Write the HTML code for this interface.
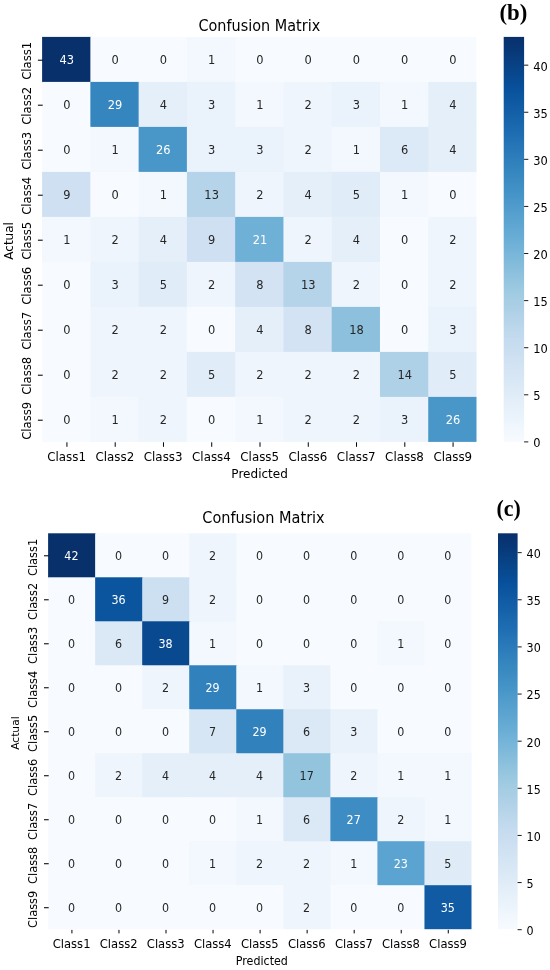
<!DOCTYPE html>
<html><head><meta charset="utf-8"><title>Confusion Matrix</title>
<style>
html,body{margin:0;padding:0;background:#fff;}
body{width:550px;height:970px;overflow:hidden;}
svg{display:block;font-family:"DejaVu Sans","Liberation Sans",sans-serif;}
</style></head><body>
<svg width="550" height="970" viewBox="0 0 550 970">
<rect width="550" height="970" fill="#ffffff"/>
<g class="cells">
<rect x="42.10" y="36.90" width="49.27" height="46.00" fill="#08306b"/>
<rect x="90.37" y="36.90" width="49.27" height="46.00" fill="#f7fbff"/>
<rect x="138.63" y="36.90" width="49.27" height="46.00" fill="#f7fbff"/>
<rect x="186.90" y="36.90" width="49.27" height="46.00" fill="#f3f8fe"/>
<rect x="235.17" y="36.90" width="49.27" height="46.00" fill="#f7fbff"/>
<rect x="283.43" y="36.90" width="49.27" height="46.00" fill="#f7fbff"/>
<rect x="331.70" y="36.90" width="49.27" height="46.00" fill="#f7fbff"/>
<rect x="379.97" y="36.90" width="49.27" height="46.00" fill="#f7fbff"/>
<rect x="428.23" y="36.90" width="48.27" height="46.00" fill="#f7fbff"/>
<rect x="42.10" y="81.90" width="49.27" height="46.00" fill="#f7fbff"/>
<rect x="90.37" y="81.90" width="49.27" height="46.00" fill="#3585bf"/>
<rect x="138.63" y="81.90" width="49.27" height="46.00" fill="#e5eff9"/>
<rect x="186.90" y="81.90" width="49.27" height="46.00" fill="#eaf2fb"/>
<rect x="235.17" y="81.90" width="49.27" height="46.00" fill="#f3f8fe"/>
<rect x="283.43" y="81.90" width="49.27" height="46.00" fill="#eef5fc"/>
<rect x="331.70" y="81.90" width="49.27" height="46.00" fill="#eaf2fb"/>
<rect x="379.97" y="81.90" width="49.27" height="46.00" fill="#f3f8fe"/>
<rect x="428.23" y="81.90" width="48.27" height="46.00" fill="#e5eff9"/>
<rect x="42.10" y="126.90" width="49.27" height="46.00" fill="#f7fbff"/>
<rect x="90.37" y="126.90" width="49.27" height="46.00" fill="#f3f8fe"/>
<rect x="138.63" y="126.90" width="49.27" height="46.00" fill="#4997c9"/>
<rect x="186.90" y="126.90" width="49.27" height="46.00" fill="#eaf2fb"/>
<rect x="235.17" y="126.90" width="49.27" height="46.00" fill="#eaf2fb"/>
<rect x="283.43" y="126.90" width="49.27" height="46.00" fill="#eef5fc"/>
<rect x="331.70" y="126.90" width="49.27" height="46.00" fill="#f3f8fe"/>
<rect x="379.97" y="126.90" width="49.27" height="46.00" fill="#dce9f6"/>
<rect x="428.23" y="126.90" width="48.27" height="46.00" fill="#e5eff9"/>
<rect x="42.10" y="171.90" width="49.27" height="46.00" fill="#cee0f2"/>
<rect x="90.37" y="171.90" width="49.27" height="46.00" fill="#f7fbff"/>
<rect x="138.63" y="171.90" width="49.27" height="46.00" fill="#f3f8fe"/>
<rect x="186.90" y="171.90" width="49.27" height="46.00" fill="#b5d4e9"/>
<rect x="235.17" y="171.90" width="49.27" height="46.00" fill="#eef5fc"/>
<rect x="283.43" y="171.90" width="49.27" height="46.00" fill="#e5eff9"/>
<rect x="331.70" y="171.90" width="49.27" height="46.00" fill="#e0ecf8"/>
<rect x="379.97" y="171.90" width="49.27" height="46.00" fill="#f3f8fe"/>
<rect x="428.23" y="171.90" width="48.27" height="46.00" fill="#f7fbff"/>
<rect x="42.10" y="216.90" width="49.27" height="46.00" fill="#f3f8fe"/>
<rect x="90.37" y="216.90" width="49.27" height="46.00" fill="#eef5fc"/>
<rect x="138.63" y="216.90" width="49.27" height="46.00" fill="#e5eff9"/>
<rect x="186.90" y="216.90" width="49.27" height="46.00" fill="#cee0f2"/>
<rect x="235.17" y="216.90" width="49.27" height="46.00" fill="#6fb0d7"/>
<rect x="283.43" y="216.90" width="49.27" height="46.00" fill="#eef5fc"/>
<rect x="331.70" y="216.90" width="49.27" height="46.00" fill="#e5eff9"/>
<rect x="379.97" y="216.90" width="49.27" height="46.00" fill="#f7fbff"/>
<rect x="428.23" y="216.90" width="48.27" height="46.00" fill="#eef5fc"/>
<rect x="42.10" y="261.90" width="49.27" height="46.00" fill="#f7fbff"/>
<rect x="90.37" y="261.90" width="49.27" height="46.00" fill="#eaf2fb"/>
<rect x="138.63" y="261.90" width="49.27" height="46.00" fill="#e0ecf8"/>
<rect x="186.90" y="261.90" width="49.27" height="46.00" fill="#eef5fc"/>
<rect x="235.17" y="261.90" width="49.27" height="46.00" fill="#d3e3f3"/>
<rect x="283.43" y="261.90" width="49.27" height="46.00" fill="#b5d4e9"/>
<rect x="331.70" y="261.90" width="49.27" height="46.00" fill="#eef5fc"/>
<rect x="379.97" y="261.90" width="49.27" height="46.00" fill="#f7fbff"/>
<rect x="428.23" y="261.90" width="48.27" height="46.00" fill="#eef5fc"/>
<rect x="42.10" y="306.90" width="49.27" height="46.00" fill="#f7fbff"/>
<rect x="90.37" y="306.90" width="49.27" height="46.00" fill="#eef5fc"/>
<rect x="138.63" y="306.90" width="49.27" height="46.00" fill="#eef5fc"/>
<rect x="186.90" y="306.90" width="49.27" height="46.00" fill="#f7fbff"/>
<rect x="235.17" y="306.90" width="49.27" height="46.00" fill="#e5eff9"/>
<rect x="283.43" y="306.90" width="49.27" height="46.00" fill="#d3e3f3"/>
<rect x="331.70" y="306.90" width="49.27" height="46.00" fill="#8cc0dd"/>
<rect x="379.97" y="306.90" width="49.27" height="46.00" fill="#f7fbff"/>
<rect x="428.23" y="306.90" width="48.27" height="46.00" fill="#eaf2fb"/>
<rect x="42.10" y="351.90" width="49.27" height="46.00" fill="#f7fbff"/>
<rect x="90.37" y="351.90" width="49.27" height="46.00" fill="#eef5fc"/>
<rect x="138.63" y="351.90" width="49.27" height="46.00" fill="#eef5fc"/>
<rect x="186.90" y="351.90" width="49.27" height="46.00" fill="#e0ecf8"/>
<rect x="235.17" y="351.90" width="49.27" height="46.00" fill="#eef5fc"/>
<rect x="283.43" y="351.90" width="49.27" height="46.00" fill="#eef5fc"/>
<rect x="331.70" y="351.90" width="49.27" height="46.00" fill="#eef5fc"/>
<rect x="379.97" y="351.90" width="49.27" height="46.00" fill="#aed1e7"/>
<rect x="428.23" y="351.90" width="48.27" height="46.00" fill="#e0ecf8"/>
<rect x="42.10" y="396.90" width="49.27" height="45.00" fill="#f7fbff"/>
<rect x="90.37" y="396.90" width="49.27" height="45.00" fill="#f3f8fe"/>
<rect x="138.63" y="396.90" width="49.27" height="45.00" fill="#eef5fc"/>
<rect x="186.90" y="396.90" width="49.27" height="45.00" fill="#f7fbff"/>
<rect x="235.17" y="396.90" width="49.27" height="45.00" fill="#f3f8fe"/>
<rect x="283.43" y="396.90" width="49.27" height="45.00" fill="#eef5fc"/>
<rect x="331.70" y="396.90" width="49.27" height="45.00" fill="#eef5fc"/>
<rect x="379.97" y="396.90" width="49.27" height="45.00" fill="#eaf2fb"/>
<rect x="428.23" y="396.90" width="48.27" height="45.00" fill="#4997c9"/>
</g><g class="annot">
<text transform="translate(66.83,63.89) scale(0.93,1)" font-size="12.30" fill="#ffffff" text-anchor="middle">43</text>
<text transform="translate(115.10,63.89) scale(0.93,1)" font-size="12.30" fill="#262626" text-anchor="middle">0</text>
<text transform="translate(163.37,63.89) scale(0.93,1)" font-size="12.30" fill="#262626" text-anchor="middle">0</text>
<text transform="translate(211.63,63.89) scale(0.93,1)" font-size="12.30" fill="#262626" text-anchor="middle">1</text>
<text transform="translate(259.90,63.89) scale(0.93,1)" font-size="12.30" fill="#262626" text-anchor="middle">0</text>
<text transform="translate(308.17,63.89) scale(0.93,1)" font-size="12.30" fill="#262626" text-anchor="middle">0</text>
<text transform="translate(356.43,63.89) scale(0.93,1)" font-size="12.30" fill="#262626" text-anchor="middle">0</text>
<text transform="translate(404.70,63.89) scale(0.93,1)" font-size="12.30" fill="#262626" text-anchor="middle">0</text>
<text transform="translate(452.97,63.89) scale(0.93,1)" font-size="12.30" fill="#262626" text-anchor="middle">0</text>
<text transform="translate(66.83,108.89) scale(0.93,1)" font-size="12.30" fill="#262626" text-anchor="middle">0</text>
<text transform="translate(115.10,108.89) scale(0.93,1)" font-size="12.30" fill="#ffffff" text-anchor="middle">29</text>
<text transform="translate(163.37,108.89) scale(0.93,1)" font-size="12.30" fill="#262626" text-anchor="middle">4</text>
<text transform="translate(211.63,108.89) scale(0.93,1)" font-size="12.30" fill="#262626" text-anchor="middle">3</text>
<text transform="translate(259.90,108.89) scale(0.93,1)" font-size="12.30" fill="#262626" text-anchor="middle">1</text>
<text transform="translate(308.17,108.89) scale(0.93,1)" font-size="12.30" fill="#262626" text-anchor="middle">2</text>
<text transform="translate(356.43,108.89) scale(0.93,1)" font-size="12.30" fill="#262626" text-anchor="middle">3</text>
<text transform="translate(404.70,108.89) scale(0.93,1)" font-size="12.30" fill="#262626" text-anchor="middle">1</text>
<text transform="translate(452.97,108.89) scale(0.93,1)" font-size="12.30" fill="#262626" text-anchor="middle">4</text>
<text transform="translate(66.83,153.89) scale(0.93,1)" font-size="12.30" fill="#262626" text-anchor="middle">0</text>
<text transform="translate(115.10,153.89) scale(0.93,1)" font-size="12.30" fill="#262626" text-anchor="middle">1</text>
<text transform="translate(163.37,153.89) scale(0.93,1)" font-size="12.30" fill="#ffffff" text-anchor="middle">26</text>
<text transform="translate(211.63,153.89) scale(0.93,1)" font-size="12.30" fill="#262626" text-anchor="middle">3</text>
<text transform="translate(259.90,153.89) scale(0.93,1)" font-size="12.30" fill="#262626" text-anchor="middle">3</text>
<text transform="translate(308.17,153.89) scale(0.93,1)" font-size="12.30" fill="#262626" text-anchor="middle">2</text>
<text transform="translate(356.43,153.89) scale(0.93,1)" font-size="12.30" fill="#262626" text-anchor="middle">1</text>
<text transform="translate(404.70,153.89) scale(0.93,1)" font-size="12.30" fill="#262626" text-anchor="middle">6</text>
<text transform="translate(452.97,153.89) scale(0.93,1)" font-size="12.30" fill="#262626" text-anchor="middle">4</text>
<text transform="translate(66.83,198.89) scale(0.93,1)" font-size="12.30" fill="#262626" text-anchor="middle">9</text>
<text transform="translate(115.10,198.89) scale(0.93,1)" font-size="12.30" fill="#262626" text-anchor="middle">0</text>
<text transform="translate(163.37,198.89) scale(0.93,1)" font-size="12.30" fill="#262626" text-anchor="middle">1</text>
<text transform="translate(211.63,198.89) scale(0.93,1)" font-size="12.30" fill="#262626" text-anchor="middle">13</text>
<text transform="translate(259.90,198.89) scale(0.93,1)" font-size="12.30" fill="#262626" text-anchor="middle">2</text>
<text transform="translate(308.17,198.89) scale(0.93,1)" font-size="12.30" fill="#262626" text-anchor="middle">4</text>
<text transform="translate(356.43,198.89) scale(0.93,1)" font-size="12.30" fill="#262626" text-anchor="middle">5</text>
<text transform="translate(404.70,198.89) scale(0.93,1)" font-size="12.30" fill="#262626" text-anchor="middle">1</text>
<text transform="translate(452.97,198.89) scale(0.93,1)" font-size="12.30" fill="#262626" text-anchor="middle">0</text>
<text transform="translate(66.83,243.89) scale(0.93,1)" font-size="12.30" fill="#262626" text-anchor="middle">1</text>
<text transform="translate(115.10,243.89) scale(0.93,1)" font-size="12.30" fill="#262626" text-anchor="middle">2</text>
<text transform="translate(163.37,243.89) scale(0.93,1)" font-size="12.30" fill="#262626" text-anchor="middle">4</text>
<text transform="translate(211.63,243.89) scale(0.93,1)" font-size="12.30" fill="#262626" text-anchor="middle">9</text>
<text transform="translate(259.90,243.89) scale(0.93,1)" font-size="12.30" fill="#ffffff" text-anchor="middle">21</text>
<text transform="translate(308.17,243.89) scale(0.93,1)" font-size="12.30" fill="#262626" text-anchor="middle">2</text>
<text transform="translate(356.43,243.89) scale(0.93,1)" font-size="12.30" fill="#262626" text-anchor="middle">4</text>
<text transform="translate(404.70,243.89) scale(0.93,1)" font-size="12.30" fill="#262626" text-anchor="middle">0</text>
<text transform="translate(452.97,243.89) scale(0.93,1)" font-size="12.30" fill="#262626" text-anchor="middle">2</text>
<text transform="translate(66.83,288.89) scale(0.93,1)" font-size="12.30" fill="#262626" text-anchor="middle">0</text>
<text transform="translate(115.10,288.89) scale(0.93,1)" font-size="12.30" fill="#262626" text-anchor="middle">3</text>
<text transform="translate(163.37,288.89) scale(0.93,1)" font-size="12.30" fill="#262626" text-anchor="middle">5</text>
<text transform="translate(211.63,288.89) scale(0.93,1)" font-size="12.30" fill="#262626" text-anchor="middle">2</text>
<text transform="translate(259.90,288.89) scale(0.93,1)" font-size="12.30" fill="#262626" text-anchor="middle">8</text>
<text transform="translate(308.17,288.89) scale(0.93,1)" font-size="12.30" fill="#262626" text-anchor="middle">13</text>
<text transform="translate(356.43,288.89) scale(0.93,1)" font-size="12.30" fill="#262626" text-anchor="middle">2</text>
<text transform="translate(404.70,288.89) scale(0.93,1)" font-size="12.30" fill="#262626" text-anchor="middle">0</text>
<text transform="translate(452.97,288.89) scale(0.93,1)" font-size="12.30" fill="#262626" text-anchor="middle">2</text>
<text transform="translate(66.83,333.89) scale(0.93,1)" font-size="12.30" fill="#262626" text-anchor="middle">0</text>
<text transform="translate(115.10,333.89) scale(0.93,1)" font-size="12.30" fill="#262626" text-anchor="middle">2</text>
<text transform="translate(163.37,333.89) scale(0.93,1)" font-size="12.30" fill="#262626" text-anchor="middle">2</text>
<text transform="translate(211.63,333.89) scale(0.93,1)" font-size="12.30" fill="#262626" text-anchor="middle">0</text>
<text transform="translate(259.90,333.89) scale(0.93,1)" font-size="12.30" fill="#262626" text-anchor="middle">4</text>
<text transform="translate(308.17,333.89) scale(0.93,1)" font-size="12.30" fill="#262626" text-anchor="middle">8</text>
<text transform="translate(356.43,333.89) scale(0.93,1)" font-size="12.30" fill="#262626" text-anchor="middle">18</text>
<text transform="translate(404.70,333.89) scale(0.93,1)" font-size="12.30" fill="#262626" text-anchor="middle">0</text>
<text transform="translate(452.97,333.89) scale(0.93,1)" font-size="12.30" fill="#262626" text-anchor="middle">3</text>
<text transform="translate(66.83,378.89) scale(0.93,1)" font-size="12.30" fill="#262626" text-anchor="middle">0</text>
<text transform="translate(115.10,378.89) scale(0.93,1)" font-size="12.30" fill="#262626" text-anchor="middle">2</text>
<text transform="translate(163.37,378.89) scale(0.93,1)" font-size="12.30" fill="#262626" text-anchor="middle">2</text>
<text transform="translate(211.63,378.89) scale(0.93,1)" font-size="12.30" fill="#262626" text-anchor="middle">5</text>
<text transform="translate(259.90,378.89) scale(0.93,1)" font-size="12.30" fill="#262626" text-anchor="middle">2</text>
<text transform="translate(308.17,378.89) scale(0.93,1)" font-size="12.30" fill="#262626" text-anchor="middle">2</text>
<text transform="translate(356.43,378.89) scale(0.93,1)" font-size="12.30" fill="#262626" text-anchor="middle">2</text>
<text transform="translate(404.70,378.89) scale(0.93,1)" font-size="12.30" fill="#262626" text-anchor="middle">14</text>
<text transform="translate(452.97,378.89) scale(0.93,1)" font-size="12.30" fill="#262626" text-anchor="middle">5</text>
<text transform="translate(66.83,423.89) scale(0.93,1)" font-size="12.30" fill="#262626" text-anchor="middle">0</text>
<text transform="translate(115.10,423.89) scale(0.93,1)" font-size="12.30" fill="#262626" text-anchor="middle">1</text>
<text transform="translate(163.37,423.89) scale(0.93,1)" font-size="12.30" fill="#262626" text-anchor="middle">2</text>
<text transform="translate(211.63,423.89) scale(0.93,1)" font-size="12.30" fill="#262626" text-anchor="middle">0</text>
<text transform="translate(259.90,423.89) scale(0.93,1)" font-size="12.30" fill="#262626" text-anchor="middle">1</text>
<text transform="translate(308.17,423.89) scale(0.93,1)" font-size="12.30" fill="#262626" text-anchor="middle">2</text>
<text transform="translate(356.43,423.89) scale(0.93,1)" font-size="12.30" fill="#262626" text-anchor="middle">2</text>
<text transform="translate(404.70,423.89) scale(0.93,1)" font-size="12.30" fill="#262626" text-anchor="middle">3</text>
<text transform="translate(452.97,423.89) scale(0.93,1)" font-size="12.30" fill="#ffffff" text-anchor="middle">26</text>
</g><g class="ticks">
<line x1="37.90" x2="42.70" y1="60.20" y2="60.20" stroke="#000" stroke-width="1.05"/>
<text transform="translate(30.60,60.80) rotate(-90) scale(0.95,1)" font-size="12.30" fill="#000" text-anchor="middle">Class1</text>
<line x1="66.93" x2="66.93" y1="442.30" y2="446.80" stroke="#000" stroke-width="1.0"/>
<text transform="translate(66.63,460.90) scale(0.965,1)" font-size="12.30" fill="#000" text-anchor="middle">Class1</text>
<line x1="37.90" x2="42.70" y1="105.20" y2="105.20" stroke="#000" stroke-width="1.05"/>
<text transform="translate(30.60,105.80) rotate(-90) scale(0.95,1)" font-size="12.30" fill="#000" text-anchor="middle">Class2</text>
<line x1="115.20" x2="115.20" y1="442.30" y2="446.80" stroke="#000" stroke-width="1.0"/>
<text transform="translate(114.90,460.90) scale(0.965,1)" font-size="12.30" fill="#000" text-anchor="middle">Class2</text>
<line x1="37.90" x2="42.70" y1="150.20" y2="150.20" stroke="#000" stroke-width="1.05"/>
<text transform="translate(30.60,150.80) rotate(-90) scale(0.95,1)" font-size="12.30" fill="#000" text-anchor="middle">Class3</text>
<line x1="163.47" x2="163.47" y1="442.30" y2="446.80" stroke="#000" stroke-width="1.0"/>
<text transform="translate(163.17,460.90) scale(0.965,1)" font-size="12.30" fill="#000" text-anchor="middle">Class3</text>
<line x1="37.90" x2="42.70" y1="195.20" y2="195.20" stroke="#000" stroke-width="1.05"/>
<text transform="translate(30.60,195.80) rotate(-90) scale(0.95,1)" font-size="12.30" fill="#000" text-anchor="middle">Class4</text>
<line x1="211.73" x2="211.73" y1="442.30" y2="446.80" stroke="#000" stroke-width="1.0"/>
<text transform="translate(211.43,460.90) scale(0.965,1)" font-size="12.30" fill="#000" text-anchor="middle">Class4</text>
<line x1="37.90" x2="42.70" y1="240.20" y2="240.20" stroke="#000" stroke-width="1.05"/>
<text transform="translate(30.60,240.80) rotate(-90) scale(0.95,1)" font-size="12.30" fill="#000" text-anchor="middle">Class5</text>
<line x1="260.00" x2="260.00" y1="442.30" y2="446.80" stroke="#000" stroke-width="1.0"/>
<text transform="translate(259.70,460.90) scale(0.965,1)" font-size="12.30" fill="#000" text-anchor="middle">Class5</text>
<line x1="37.90" x2="42.70" y1="285.20" y2="285.20" stroke="#000" stroke-width="1.05"/>
<text transform="translate(30.60,285.80) rotate(-90) scale(0.95,1)" font-size="12.30" fill="#000" text-anchor="middle">Class6</text>
<line x1="308.27" x2="308.27" y1="442.30" y2="446.80" stroke="#000" stroke-width="1.0"/>
<text transform="translate(307.97,460.90) scale(0.965,1)" font-size="12.30" fill="#000" text-anchor="middle">Class6</text>
<line x1="37.90" x2="42.70" y1="330.20" y2="330.20" stroke="#000" stroke-width="1.05"/>
<text transform="translate(30.60,330.80) rotate(-90) scale(0.95,1)" font-size="12.30" fill="#000" text-anchor="middle">Class7</text>
<line x1="356.53" x2="356.53" y1="442.30" y2="446.80" stroke="#000" stroke-width="1.0"/>
<text transform="translate(356.23,460.90) scale(0.965,1)" font-size="12.30" fill="#000" text-anchor="middle">Class7</text>
<line x1="37.90" x2="42.70" y1="375.20" y2="375.20" stroke="#000" stroke-width="1.05"/>
<text transform="translate(30.60,375.80) rotate(-90) scale(0.95,1)" font-size="12.30" fill="#000" text-anchor="middle">Class8</text>
<line x1="404.80" x2="404.80" y1="442.30" y2="446.80" stroke="#000" stroke-width="1.0"/>
<text transform="translate(404.50,460.90) scale(0.965,1)" font-size="12.30" fill="#000" text-anchor="middle">Class8</text>
<line x1="37.90" x2="42.70" y1="420.20" y2="420.20" stroke="#000" stroke-width="1.05"/>
<text transform="translate(30.60,420.80) rotate(-90) scale(0.95,1)" font-size="12.30" fill="#000" text-anchor="middle">Class9</text>
<line x1="453.07" x2="453.07" y1="442.30" y2="446.80" stroke="#000" stroke-width="1.0"/>
<text transform="translate(452.77,460.90) scale(0.965,1)" font-size="12.30" fill="#000" text-anchor="middle">Class9</text>
</g>
<text transform="translate(259.60,477.90) scale(0.98,1)" font-size="12.30" fill="#000" text-anchor="middle">Predicted</text>
<text transform="translate(13.20,240.90) rotate(-90) scale(0.98,1)" font-size="12.30" fill="#000" text-anchor="middle">Actual</text>
<text transform="translate(259.30,30.50) scale(0.95,1)" font-size="15.20" fill="#000" text-anchor="middle">Confusion Matrix</text>
<defs><linearGradient id="gb" x1="0" y1="0" x2="0" y2="1"><stop offset="0.0000" stop-color="#08306b"/><stop offset="0.0312" stop-color="#083776"/><stop offset="0.0625" stop-color="#084082"/><stop offset="0.0938" stop-color="#08488e"/><stop offset="0.1250" stop-color="#08509b"/><stop offset="0.1562" stop-color="#0e58a2"/><stop offset="0.1875" stop-color="#1460a8"/><stop offset="0.2188" stop-color="#1a68ae"/><stop offset="0.2500" stop-color="#2070b4"/><stop offset="0.2812" stop-color="#2979b9"/><stop offset="0.3125" stop-color="#3181bd"/><stop offset="0.3438" stop-color="#3989c1"/><stop offset="0.3750" stop-color="#4191c6"/><stop offset="0.4062" stop-color="#4b98ca"/><stop offset="0.4375" stop-color="#56a0ce"/><stop offset="0.4688" stop-color="#60a7d2"/><stop offset="0.5000" stop-color="#6aaed6"/><stop offset="0.5312" stop-color="#77b5d9"/><stop offset="0.5625" stop-color="#84bcdb"/><stop offset="0.5938" stop-color="#91c3de"/><stop offset="0.6250" stop-color="#9dcae1"/><stop offset="0.6562" stop-color="#a8cee4"/><stop offset="0.6875" stop-color="#b2d2e8"/><stop offset="0.7188" stop-color="#bcd7eb"/><stop offset="0.7500" stop-color="#c6dbef"/><stop offset="0.7812" stop-color="#ccdff1"/><stop offset="0.8125" stop-color="#d2e3f3"/><stop offset="0.8438" stop-color="#d8e7f5"/><stop offset="0.8750" stop-color="#deebf7"/><stop offset="0.9062" stop-color="#e4eff9"/><stop offset="0.9375" stop-color="#eaf3fb"/><stop offset="0.9688" stop-color="#f1f7fd"/><stop offset="1.0000" stop-color="#f7fbff"/></linearGradient></defs>
<rect x="503.70" y="36.90" width="20.40" height="405.00" fill="url(#gb)"/>
<g class="cbticks">
<line x1="524.10" x2="528.30" y1="441.90" y2="441.90" stroke="#000" stroke-width="0.9"/>
<text transform="translate(533.30,447.29) scale(0.93,1)" font-size="12.30" fill="#000" text-anchor="start">0</text>
<line x1="524.10" x2="528.30" y1="394.81" y2="394.81" stroke="#000" stroke-width="0.9"/>
<text transform="translate(533.30,400.20) scale(0.93,1)" font-size="12.30" fill="#000" text-anchor="start">5</text>
<line x1="524.10" x2="528.30" y1="347.71" y2="347.71" stroke="#000" stroke-width="0.9"/>
<text transform="translate(533.30,353.10) scale(0.93,1)" font-size="12.30" fill="#000" text-anchor="start">10</text>
<line x1="524.10" x2="528.30" y1="300.62" y2="300.62" stroke="#000" stroke-width="0.9"/>
<text transform="translate(533.30,306.01) scale(0.93,1)" font-size="12.30" fill="#000" text-anchor="start">15</text>
<line x1="524.10" x2="528.30" y1="253.53" y2="253.53" stroke="#000" stroke-width="0.9"/>
<text transform="translate(533.30,258.92) scale(0.93,1)" font-size="12.30" fill="#000" text-anchor="start">20</text>
<line x1="524.10" x2="528.30" y1="206.43" y2="206.43" stroke="#000" stroke-width="0.9"/>
<text transform="translate(533.30,211.82) scale(0.93,1)" font-size="12.30" fill="#000" text-anchor="start">25</text>
<line x1="524.10" x2="528.30" y1="159.34" y2="159.34" stroke="#000" stroke-width="0.9"/>
<text transform="translate(533.30,164.73) scale(0.93,1)" font-size="12.30" fill="#000" text-anchor="start">30</text>
<line x1="524.10" x2="528.30" y1="112.25" y2="112.25" stroke="#000" stroke-width="0.9"/>
<text transform="translate(533.30,117.64) scale(0.93,1)" font-size="12.30" fill="#000" text-anchor="start">35</text>
<line x1="524.10" x2="528.30" y1="65.16" y2="65.16" stroke="#000" stroke-width="0.9"/>
<text transform="translate(533.30,70.55) scale(0.93,1)" font-size="12.30" fill="#000" text-anchor="start">40</text>
</g>
<text transform="translate(513.30,19.70) scale(0.97,1)" font-size="23.50" fill="#000" text-anchor="middle" font-family="'Liberation Serif', 'DejaVu Serif', serif" font-weight="bold">(b)</text>
<g class="cells">
<rect x="48.10" y="533.30" width="48.04" height="44.99" fill="#08306b"/>
<rect x="95.14" y="533.30" width="48.04" height="44.99" fill="#f7fbff"/>
<rect x="142.19" y="533.30" width="48.04" height="44.99" fill="#f7fbff"/>
<rect x="189.23" y="533.30" width="48.04" height="44.99" fill="#eef5fc"/>
<rect x="236.28" y="533.30" width="48.04" height="44.99" fill="#f7fbff"/>
<rect x="283.32" y="533.30" width="48.04" height="44.99" fill="#f7fbff"/>
<rect x="330.37" y="533.30" width="48.04" height="44.99" fill="#f7fbff"/>
<rect x="377.41" y="533.30" width="48.04" height="44.99" fill="#f7fbff"/>
<rect x="424.46" y="533.30" width="47.04" height="44.99" fill="#f7fbff"/>
<rect x="48.10" y="577.29" width="48.04" height="44.99" fill="#f7fbff"/>
<rect x="95.14" y="577.29" width="48.04" height="44.99" fill="#0b559f"/>
<rect x="142.19" y="577.29" width="48.04" height="44.99" fill="#cde0f1"/>
<rect x="189.23" y="577.29" width="48.04" height="44.99" fill="#eef5fc"/>
<rect x="236.28" y="577.29" width="48.04" height="44.99" fill="#f7fbff"/>
<rect x="283.32" y="577.29" width="48.04" height="44.99" fill="#f7fbff"/>
<rect x="330.37" y="577.29" width="48.04" height="44.99" fill="#f7fbff"/>
<rect x="377.41" y="577.29" width="48.04" height="44.99" fill="#f7fbff"/>
<rect x="424.46" y="577.29" width="47.04" height="44.99" fill="#f7fbff"/>
<rect x="48.10" y="621.28" width="48.04" height="44.99" fill="#f7fbff"/>
<rect x="95.14" y="621.28" width="48.04" height="44.99" fill="#dbe9f6"/>
<rect x="142.19" y="621.28" width="48.04" height="44.99" fill="#084990"/>
<rect x="189.23" y="621.28" width="48.04" height="44.99" fill="#f2f8fd"/>
<rect x="236.28" y="621.28" width="48.04" height="44.99" fill="#f7fbff"/>
<rect x="283.32" y="621.28" width="48.04" height="44.99" fill="#f7fbff"/>
<rect x="330.37" y="621.28" width="48.04" height="44.99" fill="#f7fbff"/>
<rect x="377.41" y="621.28" width="48.04" height="44.99" fill="#f2f8fd"/>
<rect x="424.46" y="621.28" width="47.04" height="44.99" fill="#f7fbff"/>
<rect x="48.10" y="665.27" width="48.04" height="44.99" fill="#f7fbff"/>
<rect x="95.14" y="665.27" width="48.04" height="44.99" fill="#f7fbff"/>
<rect x="142.19" y="665.27" width="48.04" height="44.99" fill="#eef5fc"/>
<rect x="189.23" y="665.27" width="48.04" height="44.99" fill="#3181bd"/>
<rect x="236.28" y="665.27" width="48.04" height="44.99" fill="#f2f8fd"/>
<rect x="283.32" y="665.27" width="48.04" height="44.99" fill="#e9f2fa"/>
<rect x="330.37" y="665.27" width="48.04" height="44.99" fill="#f7fbff"/>
<rect x="377.41" y="665.27" width="48.04" height="44.99" fill="#f7fbff"/>
<rect x="424.46" y="665.27" width="47.04" height="44.99" fill="#f7fbff"/>
<rect x="48.10" y="709.26" width="48.04" height="44.99" fill="#f7fbff"/>
<rect x="95.14" y="709.26" width="48.04" height="44.99" fill="#f7fbff"/>
<rect x="142.19" y="709.26" width="48.04" height="44.99" fill="#f7fbff"/>
<rect x="189.23" y="709.26" width="48.04" height="44.99" fill="#d6e6f4"/>
<rect x="236.28" y="709.26" width="48.04" height="44.99" fill="#3181bd"/>
<rect x="283.32" y="709.26" width="48.04" height="44.99" fill="#dbe9f6"/>
<rect x="330.37" y="709.26" width="48.04" height="44.99" fill="#e9f2fa"/>
<rect x="377.41" y="709.26" width="48.04" height="44.99" fill="#f7fbff"/>
<rect x="424.46" y="709.26" width="47.04" height="44.99" fill="#f7fbff"/>
<rect x="48.10" y="753.24" width="48.04" height="44.99" fill="#f7fbff"/>
<rect x="95.14" y="753.24" width="48.04" height="44.99" fill="#eef5fc"/>
<rect x="142.19" y="753.24" width="48.04" height="44.99" fill="#e4eff9"/>
<rect x="189.23" y="753.24" width="48.04" height="44.99" fill="#e4eff9"/>
<rect x="236.28" y="753.24" width="48.04" height="44.99" fill="#e4eff9"/>
<rect x="283.32" y="753.24" width="48.04" height="44.99" fill="#92c4de"/>
<rect x="330.37" y="753.24" width="48.04" height="44.99" fill="#eef5fc"/>
<rect x="377.41" y="753.24" width="48.04" height="44.99" fill="#f2f8fd"/>
<rect x="424.46" y="753.24" width="47.04" height="44.99" fill="#f2f8fd"/>
<rect x="48.10" y="797.23" width="48.04" height="44.99" fill="#f7fbff"/>
<rect x="95.14" y="797.23" width="48.04" height="44.99" fill="#f7fbff"/>
<rect x="142.19" y="797.23" width="48.04" height="44.99" fill="#f7fbff"/>
<rect x="189.23" y="797.23" width="48.04" height="44.99" fill="#f7fbff"/>
<rect x="236.28" y="797.23" width="48.04" height="44.99" fill="#f2f8fd"/>
<rect x="283.32" y="797.23" width="48.04" height="44.99" fill="#dbe9f6"/>
<rect x="330.37" y="797.23" width="48.04" height="44.99" fill="#3d8dc4"/>
<rect x="377.41" y="797.23" width="48.04" height="44.99" fill="#eef5fc"/>
<rect x="424.46" y="797.23" width="47.04" height="44.99" fill="#f2f8fd"/>
<rect x="48.10" y="841.22" width="48.04" height="44.99" fill="#f7fbff"/>
<rect x="95.14" y="841.22" width="48.04" height="44.99" fill="#f7fbff"/>
<rect x="142.19" y="841.22" width="48.04" height="44.99" fill="#f7fbff"/>
<rect x="189.23" y="841.22" width="48.04" height="44.99" fill="#f2f8fd"/>
<rect x="236.28" y="841.22" width="48.04" height="44.99" fill="#eef5fc"/>
<rect x="283.32" y="841.22" width="48.04" height="44.99" fill="#eef5fc"/>
<rect x="330.37" y="841.22" width="48.04" height="44.99" fill="#f2f8fd"/>
<rect x="377.41" y="841.22" width="48.04" height="44.99" fill="#5ba3d0"/>
<rect x="424.46" y="841.22" width="47.04" height="44.99" fill="#dfecf7"/>
<rect x="48.10" y="885.21" width="48.04" height="43.99" fill="#f7fbff"/>
<rect x="95.14" y="885.21" width="48.04" height="43.99" fill="#f7fbff"/>
<rect x="142.19" y="885.21" width="48.04" height="43.99" fill="#f7fbff"/>
<rect x="189.23" y="885.21" width="48.04" height="43.99" fill="#f7fbff"/>
<rect x="236.28" y="885.21" width="48.04" height="43.99" fill="#f7fbff"/>
<rect x="283.32" y="885.21" width="48.04" height="43.99" fill="#eef5fc"/>
<rect x="330.37" y="885.21" width="48.04" height="43.99" fill="#f7fbff"/>
<rect x="377.41" y="885.21" width="48.04" height="43.99" fill="#f7fbff"/>
<rect x="424.46" y="885.21" width="47.04" height="43.99" fill="#105ba4"/>
</g><g class="annot">
<text transform="translate(71.42,559.67) scale(0.93,1)" font-size="11.99" fill="#ffffff" text-anchor="middle">42</text>
<text transform="translate(118.47,559.67) scale(0.93,1)" font-size="11.99" fill="#262626" text-anchor="middle">0</text>
<text transform="translate(165.51,559.67) scale(0.93,1)" font-size="11.99" fill="#262626" text-anchor="middle">0</text>
<text transform="translate(212.56,559.67) scale(0.93,1)" font-size="11.99" fill="#262626" text-anchor="middle">2</text>
<text transform="translate(259.60,559.67) scale(0.93,1)" font-size="11.99" fill="#262626" text-anchor="middle">0</text>
<text transform="translate(306.64,559.67) scale(0.93,1)" font-size="11.99" fill="#262626" text-anchor="middle">0</text>
<text transform="translate(353.69,559.67) scale(0.93,1)" font-size="11.99" fill="#262626" text-anchor="middle">0</text>
<text transform="translate(400.73,559.67) scale(0.93,1)" font-size="11.99" fill="#262626" text-anchor="middle">0</text>
<text transform="translate(447.78,559.67) scale(0.93,1)" font-size="11.99" fill="#262626" text-anchor="middle">0</text>
<text transform="translate(71.42,603.66) scale(0.93,1)" font-size="11.99" fill="#262626" text-anchor="middle">0</text>
<text transform="translate(118.47,603.66) scale(0.93,1)" font-size="11.99" fill="#ffffff" text-anchor="middle">36</text>
<text transform="translate(165.51,603.66) scale(0.93,1)" font-size="11.99" fill="#262626" text-anchor="middle">9</text>
<text transform="translate(212.56,603.66) scale(0.93,1)" font-size="11.99" fill="#262626" text-anchor="middle">2</text>
<text transform="translate(259.60,603.66) scale(0.93,1)" font-size="11.99" fill="#262626" text-anchor="middle">0</text>
<text transform="translate(306.64,603.66) scale(0.93,1)" font-size="11.99" fill="#262626" text-anchor="middle">0</text>
<text transform="translate(353.69,603.66) scale(0.93,1)" font-size="11.99" fill="#262626" text-anchor="middle">0</text>
<text transform="translate(400.73,603.66) scale(0.93,1)" font-size="11.99" fill="#262626" text-anchor="middle">0</text>
<text transform="translate(447.78,603.66) scale(0.93,1)" font-size="11.99" fill="#262626" text-anchor="middle">0</text>
<text transform="translate(71.42,647.65) scale(0.93,1)" font-size="11.99" fill="#262626" text-anchor="middle">0</text>
<text transform="translate(118.47,647.65) scale(0.93,1)" font-size="11.99" fill="#262626" text-anchor="middle">6</text>
<text transform="translate(165.51,647.65) scale(0.93,1)" font-size="11.99" fill="#ffffff" text-anchor="middle">38</text>
<text transform="translate(212.56,647.65) scale(0.93,1)" font-size="11.99" fill="#262626" text-anchor="middle">1</text>
<text transform="translate(259.60,647.65) scale(0.93,1)" font-size="11.99" fill="#262626" text-anchor="middle">0</text>
<text transform="translate(306.64,647.65) scale(0.93,1)" font-size="11.99" fill="#262626" text-anchor="middle">0</text>
<text transform="translate(353.69,647.65) scale(0.93,1)" font-size="11.99" fill="#262626" text-anchor="middle">0</text>
<text transform="translate(400.73,647.65) scale(0.93,1)" font-size="11.99" fill="#262626" text-anchor="middle">1</text>
<text transform="translate(447.78,647.65) scale(0.93,1)" font-size="11.99" fill="#262626" text-anchor="middle">0</text>
<text transform="translate(71.42,691.64) scale(0.93,1)" font-size="11.99" fill="#262626" text-anchor="middle">0</text>
<text transform="translate(118.47,691.64) scale(0.93,1)" font-size="11.99" fill="#262626" text-anchor="middle">0</text>
<text transform="translate(165.51,691.64) scale(0.93,1)" font-size="11.99" fill="#262626" text-anchor="middle">2</text>
<text transform="translate(212.56,691.64) scale(0.93,1)" font-size="11.99" fill="#ffffff" text-anchor="middle">29</text>
<text transform="translate(259.60,691.64) scale(0.93,1)" font-size="11.99" fill="#262626" text-anchor="middle">1</text>
<text transform="translate(306.64,691.64) scale(0.93,1)" font-size="11.99" fill="#262626" text-anchor="middle">3</text>
<text transform="translate(353.69,691.64) scale(0.93,1)" font-size="11.99" fill="#262626" text-anchor="middle">0</text>
<text transform="translate(400.73,691.64) scale(0.93,1)" font-size="11.99" fill="#262626" text-anchor="middle">0</text>
<text transform="translate(447.78,691.64) scale(0.93,1)" font-size="11.99" fill="#262626" text-anchor="middle">0</text>
<text transform="translate(71.42,735.63) scale(0.93,1)" font-size="11.99" fill="#262626" text-anchor="middle">0</text>
<text transform="translate(118.47,735.63) scale(0.93,1)" font-size="11.99" fill="#262626" text-anchor="middle">0</text>
<text transform="translate(165.51,735.63) scale(0.93,1)" font-size="11.99" fill="#262626" text-anchor="middle">0</text>
<text transform="translate(212.56,735.63) scale(0.93,1)" font-size="11.99" fill="#262626" text-anchor="middle">7</text>
<text transform="translate(259.60,735.63) scale(0.93,1)" font-size="11.99" fill="#ffffff" text-anchor="middle">29</text>
<text transform="translate(306.64,735.63) scale(0.93,1)" font-size="11.99" fill="#262626" text-anchor="middle">6</text>
<text transform="translate(353.69,735.63) scale(0.93,1)" font-size="11.99" fill="#262626" text-anchor="middle">3</text>
<text transform="translate(400.73,735.63) scale(0.93,1)" font-size="11.99" fill="#262626" text-anchor="middle">0</text>
<text transform="translate(447.78,735.63) scale(0.93,1)" font-size="11.99" fill="#262626" text-anchor="middle">0</text>
<text transform="translate(71.42,779.62) scale(0.93,1)" font-size="11.99" fill="#262626" text-anchor="middle">0</text>
<text transform="translate(118.47,779.62) scale(0.93,1)" font-size="11.99" fill="#262626" text-anchor="middle">2</text>
<text transform="translate(165.51,779.62) scale(0.93,1)" font-size="11.99" fill="#262626" text-anchor="middle">4</text>
<text transform="translate(212.56,779.62) scale(0.93,1)" font-size="11.99" fill="#262626" text-anchor="middle">4</text>
<text transform="translate(259.60,779.62) scale(0.93,1)" font-size="11.99" fill="#262626" text-anchor="middle">4</text>
<text transform="translate(306.64,779.62) scale(0.93,1)" font-size="11.99" fill="#262626" text-anchor="middle">17</text>
<text transform="translate(353.69,779.62) scale(0.93,1)" font-size="11.99" fill="#262626" text-anchor="middle">2</text>
<text transform="translate(400.73,779.62) scale(0.93,1)" font-size="11.99" fill="#262626" text-anchor="middle">1</text>
<text transform="translate(447.78,779.62) scale(0.93,1)" font-size="11.99" fill="#262626" text-anchor="middle">1</text>
<text transform="translate(71.42,823.61) scale(0.93,1)" font-size="11.99" fill="#262626" text-anchor="middle">0</text>
<text transform="translate(118.47,823.61) scale(0.93,1)" font-size="11.99" fill="#262626" text-anchor="middle">0</text>
<text transform="translate(165.51,823.61) scale(0.93,1)" font-size="11.99" fill="#262626" text-anchor="middle">0</text>
<text transform="translate(212.56,823.61) scale(0.93,1)" font-size="11.99" fill="#262626" text-anchor="middle">0</text>
<text transform="translate(259.60,823.61) scale(0.93,1)" font-size="11.99" fill="#262626" text-anchor="middle">1</text>
<text transform="translate(306.64,823.61) scale(0.93,1)" font-size="11.99" fill="#262626" text-anchor="middle">6</text>
<text transform="translate(353.69,823.61) scale(0.93,1)" font-size="11.99" fill="#ffffff" text-anchor="middle">27</text>
<text transform="translate(400.73,823.61) scale(0.93,1)" font-size="11.99" fill="#262626" text-anchor="middle">2</text>
<text transform="translate(447.78,823.61) scale(0.93,1)" font-size="11.99" fill="#262626" text-anchor="middle">1</text>
<text transform="translate(71.42,867.59) scale(0.93,1)" font-size="11.99" fill="#262626" text-anchor="middle">0</text>
<text transform="translate(118.47,867.59) scale(0.93,1)" font-size="11.99" fill="#262626" text-anchor="middle">0</text>
<text transform="translate(165.51,867.59) scale(0.93,1)" font-size="11.99" fill="#262626" text-anchor="middle">0</text>
<text transform="translate(212.56,867.59) scale(0.93,1)" font-size="11.99" fill="#262626" text-anchor="middle">1</text>
<text transform="translate(259.60,867.59) scale(0.93,1)" font-size="11.99" fill="#262626" text-anchor="middle">2</text>
<text transform="translate(306.64,867.59) scale(0.93,1)" font-size="11.99" fill="#262626" text-anchor="middle">2</text>
<text transform="translate(353.69,867.59) scale(0.93,1)" font-size="11.99" fill="#262626" text-anchor="middle">1</text>
<text transform="translate(400.73,867.59) scale(0.93,1)" font-size="11.99" fill="#ffffff" text-anchor="middle">23</text>
<text transform="translate(447.78,867.59) scale(0.93,1)" font-size="11.99" fill="#262626" text-anchor="middle">5</text>
<text transform="translate(71.42,911.58) scale(0.93,1)" font-size="11.99" fill="#262626" text-anchor="middle">0</text>
<text transform="translate(118.47,911.58) scale(0.93,1)" font-size="11.99" fill="#262626" text-anchor="middle">0</text>
<text transform="translate(165.51,911.58) scale(0.93,1)" font-size="11.99" fill="#262626" text-anchor="middle">0</text>
<text transform="translate(212.56,911.58) scale(0.93,1)" font-size="11.99" fill="#262626" text-anchor="middle">0</text>
<text transform="translate(259.60,911.58) scale(0.93,1)" font-size="11.99" fill="#262626" text-anchor="middle">0</text>
<text transform="translate(306.64,911.58) scale(0.93,1)" font-size="11.99" fill="#262626" text-anchor="middle">2</text>
<text transform="translate(353.69,911.58) scale(0.93,1)" font-size="11.99" fill="#262626" text-anchor="middle">0</text>
<text transform="translate(400.73,911.58) scale(0.93,1)" font-size="11.99" fill="#262626" text-anchor="middle">0</text>
<text transform="translate(447.78,911.58) scale(0.93,1)" font-size="11.99" fill="#ffffff" text-anchor="middle">35</text>
</g><g class="ticks">
<line x1="44.01" x2="48.70" y1="555.79" y2="555.79" stroke="#000" stroke-width="1.05"/>
<text transform="translate(36.60,557.39) rotate(-90) scale(0.95,1)" font-size="11.99" fill="#000" text-anchor="middle">Class1</text>
<line x1="71.92" x2="71.92" y1="929.90" y2="933.40" stroke="#000" stroke-width="1.0"/>
<text transform="translate(71.62,947.80) scale(0.965,1)" font-size="11.99" fill="#000" text-anchor="middle">Class1</text>
<line x1="44.01" x2="48.70" y1="599.78" y2="599.78" stroke="#000" stroke-width="1.05"/>
<text transform="translate(36.60,601.38) rotate(-90) scale(0.95,1)" font-size="11.99" fill="#000" text-anchor="middle">Class2</text>
<line x1="118.97" x2="118.97" y1="929.90" y2="933.40" stroke="#000" stroke-width="1.0"/>
<text transform="translate(118.67,947.80) scale(0.965,1)" font-size="11.99" fill="#000" text-anchor="middle">Class2</text>
<line x1="44.01" x2="48.70" y1="643.77" y2="643.77" stroke="#000" stroke-width="1.05"/>
<text transform="translate(36.60,645.37) rotate(-90) scale(0.95,1)" font-size="11.99" fill="#000" text-anchor="middle">Class3</text>
<line x1="166.01" x2="166.01" y1="929.90" y2="933.40" stroke="#000" stroke-width="1.0"/>
<text transform="translate(165.71,947.80) scale(0.965,1)" font-size="11.99" fill="#000" text-anchor="middle">Class3</text>
<line x1="44.01" x2="48.70" y1="687.76" y2="687.76" stroke="#000" stroke-width="1.05"/>
<text transform="translate(36.60,689.36) rotate(-90) scale(0.95,1)" font-size="11.99" fill="#000" text-anchor="middle">Class4</text>
<line x1="213.06" x2="213.06" y1="929.90" y2="933.40" stroke="#000" stroke-width="1.0"/>
<text transform="translate(212.76,947.80) scale(0.965,1)" font-size="11.99" fill="#000" text-anchor="middle">Class4</text>
<line x1="44.01" x2="48.70" y1="731.75" y2="731.75" stroke="#000" stroke-width="1.05"/>
<text transform="translate(36.60,733.35) rotate(-90) scale(0.95,1)" font-size="11.99" fill="#000" text-anchor="middle">Class5</text>
<line x1="260.10" x2="260.10" y1="929.90" y2="933.40" stroke="#000" stroke-width="1.0"/>
<text transform="translate(259.80,947.80) scale(0.965,1)" font-size="11.99" fill="#000" text-anchor="middle">Class5</text>
<line x1="44.01" x2="48.70" y1="775.74" y2="775.74" stroke="#000" stroke-width="1.05"/>
<text transform="translate(36.60,777.34) rotate(-90) scale(0.95,1)" font-size="11.99" fill="#000" text-anchor="middle">Class6</text>
<line x1="307.14" x2="307.14" y1="929.90" y2="933.40" stroke="#000" stroke-width="1.0"/>
<text transform="translate(306.84,947.80) scale(0.965,1)" font-size="11.99" fill="#000" text-anchor="middle">Class6</text>
<line x1="44.01" x2="48.70" y1="819.73" y2="819.73" stroke="#000" stroke-width="1.05"/>
<text transform="translate(36.60,821.33) rotate(-90) scale(0.95,1)" font-size="11.99" fill="#000" text-anchor="middle">Class7</text>
<line x1="354.19" x2="354.19" y1="929.90" y2="933.40" stroke="#000" stroke-width="1.0"/>
<text transform="translate(353.89,947.80) scale(0.965,1)" font-size="11.99" fill="#000" text-anchor="middle">Class7</text>
<line x1="44.01" x2="48.70" y1="863.72" y2="863.72" stroke="#000" stroke-width="1.05"/>
<text transform="translate(36.60,865.32) rotate(-90) scale(0.95,1)" font-size="11.99" fill="#000" text-anchor="middle">Class8</text>
<line x1="401.23" x2="401.23" y1="929.90" y2="933.40" stroke="#000" stroke-width="1.0"/>
<text transform="translate(400.93,947.80) scale(0.965,1)" font-size="11.99" fill="#000" text-anchor="middle">Class8</text>
<line x1="44.01" x2="48.70" y1="907.71" y2="907.71" stroke="#000" stroke-width="1.05"/>
<text transform="translate(36.60,909.31) rotate(-90) scale(0.95,1)" font-size="11.99" fill="#000" text-anchor="middle">Class9</text>
<line x1="448.28" x2="448.28" y1="929.90" y2="933.40" stroke="#000" stroke-width="1.0"/>
<text transform="translate(447.98,947.80) scale(0.965,1)" font-size="11.99" fill="#000" text-anchor="middle">Class9</text>
</g>
<text transform="translate(261.80,965.40) scale(0.955,1)" font-size="11.63" fill="#000" text-anchor="middle">Predicted</text>
<text transform="translate(19.40,733.10) rotate(-90) scale(0.98,1)" font-size="10.91" fill="#000" text-anchor="middle">Actual</text>
<text transform="translate(263.50,523.00) scale(0.95,1)" font-size="15.28" fill="#000" text-anchor="middle">Confusion Matrix</text>
<defs><linearGradient id="gc" x1="0" y1="0" x2="0" y2="1"><stop offset="0.0000" stop-color="#08306b"/><stop offset="0.0312" stop-color="#083776"/><stop offset="0.0625" stop-color="#084082"/><stop offset="0.0938" stop-color="#08488e"/><stop offset="0.1250" stop-color="#08509b"/><stop offset="0.1562" stop-color="#0e58a2"/><stop offset="0.1875" stop-color="#1460a8"/><stop offset="0.2188" stop-color="#1a68ae"/><stop offset="0.2500" stop-color="#2070b4"/><stop offset="0.2812" stop-color="#2979b9"/><stop offset="0.3125" stop-color="#3181bd"/><stop offset="0.3438" stop-color="#3989c1"/><stop offset="0.3750" stop-color="#4191c6"/><stop offset="0.4062" stop-color="#4b98ca"/><stop offset="0.4375" stop-color="#56a0ce"/><stop offset="0.4688" stop-color="#60a7d2"/><stop offset="0.5000" stop-color="#6aaed6"/><stop offset="0.5312" stop-color="#77b5d9"/><stop offset="0.5625" stop-color="#84bcdb"/><stop offset="0.5938" stop-color="#91c3de"/><stop offset="0.6250" stop-color="#9dcae1"/><stop offset="0.6562" stop-color="#a8cee4"/><stop offset="0.6875" stop-color="#b2d2e8"/><stop offset="0.7188" stop-color="#bcd7eb"/><stop offset="0.7500" stop-color="#c6dbef"/><stop offset="0.7812" stop-color="#ccdff1"/><stop offset="0.8125" stop-color="#d2e3f3"/><stop offset="0.8438" stop-color="#d8e7f5"/><stop offset="0.8750" stop-color="#deebf7"/><stop offset="0.9062" stop-color="#e4eff9"/><stop offset="0.9375" stop-color="#eaf3fb"/><stop offset="0.9688" stop-color="#f1f7fd"/><stop offset="1.0000" stop-color="#f7fbff"/></linearGradient></defs>
<rect x="498.00" y="533.30" width="19.60" height="395.90" fill="url(#gc)"/>
<g class="cbticks">
<line x1="517.60" x2="521.70" y1="929.70" y2="929.70" stroke="#000" stroke-width="0.9"/>
<text transform="translate(526.60,935.08) scale(0.93,1)" font-size="11.99" fill="#000" text-anchor="start">0</text>
<line x1="517.60" x2="521.70" y1="882.57" y2="882.57" stroke="#000" stroke-width="0.9"/>
<text transform="translate(526.60,887.95) scale(0.93,1)" font-size="11.99" fill="#000" text-anchor="start">5</text>
<line x1="517.60" x2="521.70" y1="835.44" y2="835.44" stroke="#000" stroke-width="0.9"/>
<text transform="translate(526.60,840.82) scale(0.93,1)" font-size="11.99" fill="#000" text-anchor="start">10</text>
<line x1="517.60" x2="521.70" y1="788.31" y2="788.31" stroke="#000" stroke-width="0.9"/>
<text transform="translate(526.60,793.68) scale(0.93,1)" font-size="11.99" fill="#000" text-anchor="start">15</text>
<line x1="517.60" x2="521.70" y1="741.18" y2="741.18" stroke="#000" stroke-width="0.9"/>
<text transform="translate(526.60,746.55) scale(0.93,1)" font-size="11.99" fill="#000" text-anchor="start">20</text>
<line x1="517.60" x2="521.70" y1="694.05" y2="694.05" stroke="#000" stroke-width="0.9"/>
<text transform="translate(526.60,699.42) scale(0.93,1)" font-size="11.99" fill="#000" text-anchor="start">25</text>
<line x1="517.60" x2="521.70" y1="646.91" y2="646.91" stroke="#000" stroke-width="0.9"/>
<text transform="translate(526.60,652.29) scale(0.93,1)" font-size="11.99" fill="#000" text-anchor="start">30</text>
<line x1="517.60" x2="521.70" y1="599.78" y2="599.78" stroke="#000" stroke-width="0.9"/>
<text transform="translate(526.60,605.16) scale(0.93,1)" font-size="11.99" fill="#000" text-anchor="start">35</text>
<line x1="517.60" x2="521.70" y1="552.65" y2="552.65" stroke="#000" stroke-width="0.9"/>
<text transform="translate(526.60,558.03) scale(0.93,1)" font-size="11.99" fill="#000" text-anchor="start">40</text>
</g>
<text transform="translate(508.70,515.80) scale(0.93,1)" font-size="23.50" fill="#000" text-anchor="middle" font-family="'Liberation Serif', 'DejaVu Serif', serif" font-weight="bold">(c)</text>
</svg>
</body></html>
